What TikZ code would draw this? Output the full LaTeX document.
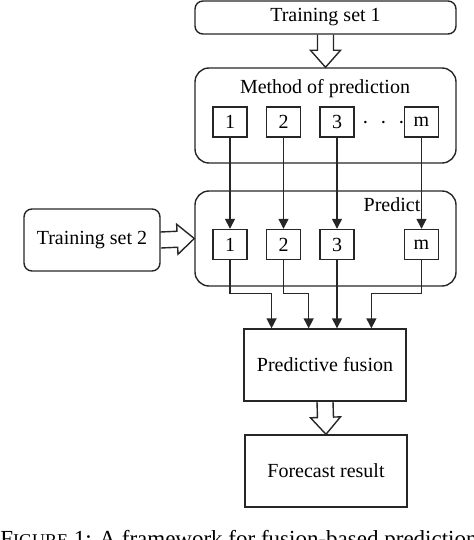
\documentclass[tikz,border=0pt]{standalone}
\usepackage{fontspec}
\setmainfont{Liberation Serif}
\usetikzlibrary{calc,arrows.meta}

\tikzset{
    roundbox/.style={
        draw=black!85,
        line width=0.7pt,
        rounded corners=7pt,
        minimum width=130.5pt,
        minimum height=47.5pt
    },
    numbox/.style={
        draw=black!85,
        line width=0.7pt,
        inner sep=0pt,
        minimum width=17pt,
        minimum height=15pt
    },
    plainbox/.style={
        draw=black!85,
        line width=0.7pt,
        minimum width=81pt,
        minimum height=36pt
    },
    link/.style={
        draw=black!85,
        line width=0.7pt,
        -{Triangle[width=5pt,length=5pt]}
    }
}

% hollow block arrow from #1 to #2
\newcommand{\fatarrow}[2]{%
    \draw[draw=black!85, line width=0.7pt]
        let \p1=($(#2)-(#1)$), \n1={veclen(\x1,\y1)}, \n2={atan2(\y1,\x1)} in
        [shift={(#1)}, rotate=\n2]
        (0,4pt) -- (\n1-8.5pt,4pt) -- (\n1-8.5pt,7.5pt) -- (\n1,0)
        -- (\n1-8.5pt,-7.5pt) -- (\n1-8.5pt,-4pt) -- (0,-4pt);%
}

\begin{document}
\begin{tikzpicture}[x=0.5pt, y=-0.5pt]
    \useasboundingbox (0,0) rectangle (474,540);

    % top row
    \node[roundbox, rounded corners=4pt, minimum height=16.5pt] (train1) at (325.5,17.5) {Training set 1};
    \node[roundbox] (method) at (325.5,115.5) {};
    \node (methodlabel) at (325,89) {Method of prediction};
    \node[roundbox] (predict) at (325.5,238.5) {};
    \node (predictlabel) at (392,205) {Predict};
    \node[roundbox, rounded corners=4pt, minimum width=68pt, minimum height=31pt] (train2) at (92,240) {Training set 2};

    % the m methods
    \foreach \n/\x in {1/230, 2/283.5, 3/337, m/421.5} {
        \node[numbox] (up\n) at (\x,122) {\n};
        \node[numbox] (lo\n) at (\x,244.5) {\n};
        \draw[link] (up\n) -- (lo\n);
    }
    \node (dots) at (383.5,123) {\large$\cdot\hspace{3pt}\cdot\hspace{3pt}\cdot$};

    % fusion and result
    \node[plainbox] (fusion) at (325,365) {Predictive fusion};
    \node[plainbox] (result) at (326,471) {Forecast result};

    \fatarrow{train1.south}{method.north}
    \fatarrow{train2.east}{predict.west}
    \fatarrow{fusion.south}{result.north}

    \coordinate (in1) at ($(fusion.north west)!0.173!(fusion.north east)$);
    \coordinate (in2) at ($(fusion.north west)!0.40!(fusion.north east)$);
    \coordinate (inm) at ($(fusion.north west)!0.784!(fusion.north east)$);
    \draw[link] (lo1.south) -- ++(0,-16.5pt) -| (in1);
    \draw[link] (lo2.south) -- ++(0,-16.5pt) -| (in2);
    \draw[link] (lo3.south) -- (lo3.south |- fusion.north);
    \draw[link] (lom.south) -- ++(0,-16.5pt) -| (inm);

    \node[anchor=north west, inner sep=0pt, font=\fontsize{11.5}{13}\selectfont] (caption) at (0,530)
        {F{\small IGURE} 1: A framework for fusion-based prediction};
\end{tikzpicture}
\end{document}
